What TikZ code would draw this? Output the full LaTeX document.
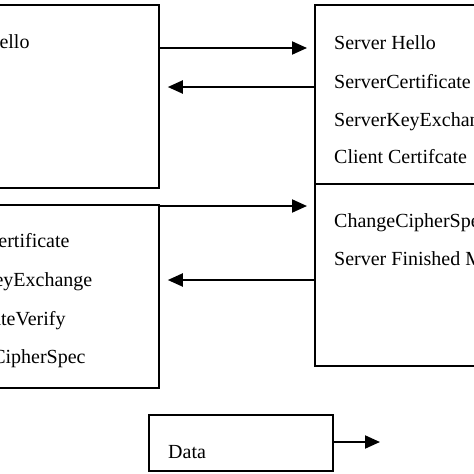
\documentclass[tikz,border=0pt]{standalone}
\usepackage{fontspec}
\setmainfont{Liberation Serif}
\usetikzlibrary{arrows.meta}
\begin{document}
\begin{tikzpicture}[x=1pt, y=-1pt,
	box/.style={draw, line width=1.8pt, anchor=north west, inner sep=0pt},
	msg/.style={anchor=base west, inner sep=0pt, font=\fontsize{20}{24}\selectfont},
	arrow/.style={line width=2pt, -{Triangle[length=15pt,width=13pt]}}]
	\useasboundingbox (0,0) rectangle (474,474);
	\clip (0,0) rectangle (474,474);
	% client side
	\node[box, minimum width=247pt, minimum height=183pt] (clienthello) at (-89,4) {};
	\node[box, minimum width=247pt, minimum height=183pt] (clientfinish) at (-89,204) {};
	\node[msg] (chello) at (-69,48) {Client Hello};
	\node[msg] (ccert) at (-69,247) {Client Certificate};
	\node[msg] (ckey) at (-69,286) {ClientKeyExchange};
	\node[msg] (cverify) at (-69,325) {CertificateVerify};
	\node[msg] (cspec) at (-69,363) {ChangeCipherSpec};
	% server side
	\node[box, minimum width=247pt, minimum height=179pt] (serverhello) at (314,4) {};
	\node[box, minimum width=247pt, minimum height=182pt] (serverfinish) at (314,183) {};
	\node[msg] (shello) at (334,49) {Server Hello};
	\node[msg] (scert) at (334,88) {ServerCertificate};
	\node[msg] (skey) at (334,126) {ServerKeyExchange};
	\node[msg] (sreq) at (334,163) {Client Certifcate};
	\node[msg] (sspec) at (334,227) {ChangeCipherSpec};
	\node[msg] (sdone) at (334,265) {Server Finished Message};
	% data
	\node[box, minimum width=184pt, minimum height=56pt] (data) at (148,414) {};
	\node[msg] (datatext) at (168,458) {Data};
	\coordinate (dataout) at (380,442);
	% messages
	\draw[arrow, shorten >=7pt] (clienthello.east |- 0,48) -- (serverhello.west |- 0,48);
	\draw[arrow, shorten >=8pt] (serverhello.west |- 0,87) -- (clienthello.east |- 0,87);
	\draw[arrow, shorten >=7pt] (clientfinish.east |- 0,206) -- (serverfinish.west |- 0,206);
	\draw[arrow, shorten >=8pt] (serverfinish.west |- 0,280) -- (clientfinish.east |- 0,280);
	\draw[arrow] (data.east |- dataout) -- (dataout);
	%\draw[arrow] (data.south) -- ++(0,20);
\end{tikzpicture}
\end{document}
